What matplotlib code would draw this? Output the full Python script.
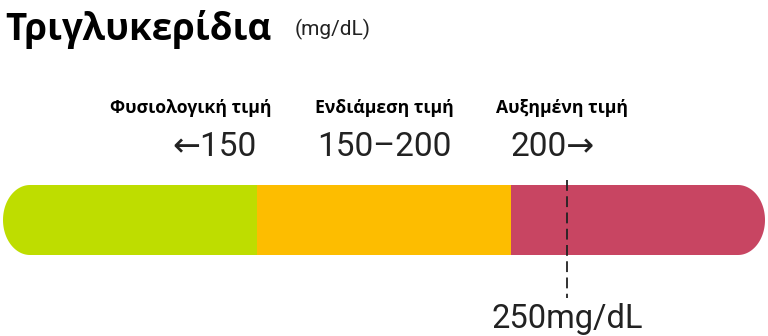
import numpy as np
import matplotlib.pyplot as plt
from matplotlib.patches import Polygon

W, H = 768, 336

title = "Τριγλυκερίδια"
unit = "(mg/dL)"
zone_labels = ["Φυσιολογική τιμή", "Ενδιάμεση τιμή", "Αυξημένη τιμή"]
zone_ranges = ["←150", "150–200", "200→"]
zone_colors = ["#bedd00", "#fdbd00", "#c84562"]
zone_starts = [0, 1, 2]          # each zone takes one unit of the bar
zone_widths = [1, 1, 1]
marker_pos = 2.22                # position of the 250 reading on the bar
marker_label = "250mg/dL"

fig = plt.figure(figsize=(W / 100, H / 100), dpi=100)

# bar axes placed in pixel terms: x 3..765, y 185..255
bx0, bx1, by0, by1 = 3, 765, 185, 255
ax = fig.add_axes([bx0 / W, 1 - by1 / H, (bx1 - bx0) / W, (by1 - by0) / H])
ax.set_xlim(0, 3)
ax.set_ylim(0, 1)
ax.axis("off")

# rounded outline (elliptic caps) used as clip for the segments
rx = 27 / ((bx1 - bx0) / 3)
t = np.linspace(np.pi / 2, 3 * np.pi / 2, 60)
left_cap = np.column_stack([rx + rx * np.cos(t), 0.5 + 0.5 * np.sin(t)])
right_cap = np.column_stack([3 - rx - rx * np.cos(t), 0.5 - 0.5 * np.sin(t)])
outline = Polygon(np.vstack([left_cap, right_cap]), closed=True,
                  facecolor="none", edgecolor="none", transform=ax.transData)
ax.add_patch(outline)

bars = ax.barh(0.5, zone_widths, left=zone_starts, height=1,
               color=zone_colors, edgecolor="none")
for b in bars:
    b.set_clip_path(outline)

# zone labels and ranges above the bar
label_x = [0.74, 1.5, 2.2]
for x, lab in zip(label_x, zone_labels):
    ax.text(x, 2.1, lab, ha="center", va="center", fontsize=12.7,
            fontweight="bold", family=["Open Sans", "DejaVu Sans"], clip_on=False)

range_x = [1.0, 1.5, 2.0]
range_ha = ["right", "center", "left"]
for x, txt, ha in zip(range_x, zone_ranges, range_ha):
    ax.text(x, 1.54, txt, ha=ha, va="center", fontsize=24, color="#222222",
            family=["Roboto", "DejaVu Sans"], clip_on=False)

# marker line and value
ax.plot([marker_pos, marker_pos], [1.07, -0.62], color="#222222", lw=1.3,
        ls=(0, (6, 3)), clip_on=False)
ax.text(marker_pos, -0.92, marker_label, ha="center", va="center", fontsize=23.5,
        color="#222222", family=["Roboto", "DejaVu Sans"], clip_on=False)

fig.text(5 / W, 1 - 40 / H, title, ha="left", va="baseline", fontsize=26.5,
         fontweight="bold", family=["Open Sans", "DejaVu Sans"])
fig.text(295 / W, 1 - 35 / H, unit, ha="left", va="baseline", fontsize=15,
         color="#222222", family=["Roboto", "DejaVu Sans"])

fig.savefig("out.png", dpi=100)
